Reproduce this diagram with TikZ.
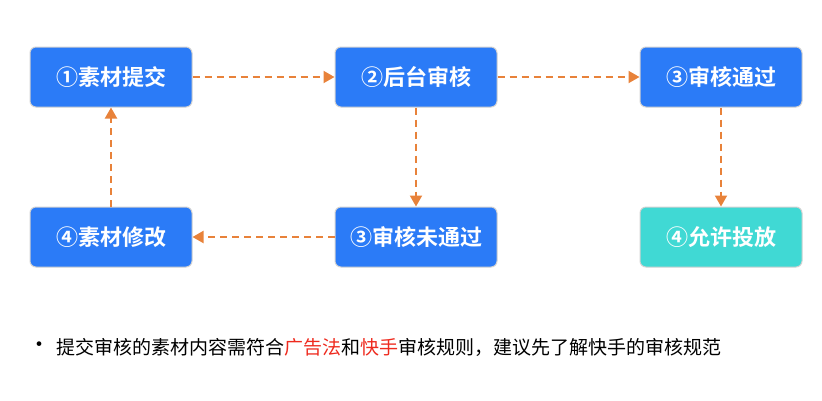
\documentclass[tikz,border=0pt]{standalone}
\usepackage{fontspec}
\usepackage{tikz}
\usetikzlibrary{arrows.meta}
\setmainfont{Noto Sans CJK SC}
\newfontfamily\cjkbold{Noto Sans CJK SC Bold}
\definecolor{stepblue}{HTML}{2B7BF7}
\definecolor{stepteal}{HTML}{40D9D4}
\definecolor{flowline}{HTML}{E8823A}
\definecolor{hotred}{HTML}{EE2A1E}
\tikzset{
    stepbox/.style={rectangle, rounded corners=6pt, fill=stepblue, draw=black!18, line width=1pt,
        minimum width=162pt, minimum height=60pt, text=white, font=\cjkbold\fontsize{22pt}{24pt}\selectfont},
    flow/.style={draw=flowline, line width=2pt, dash pattern=on 7pt off 5pt, -{Triangle[length=11pt,width=12pt]}}
}
\begin{document}
\begin{tikzpicture}[x=1pt,y=-1pt]
    \useasboundingbox (0,0) rectangle (822,400);
    % Steps
    \node[stepbox] (Submit) at (111,77) {①素材提交};
    \node[stepbox] (Review) at (416,77) {②后台审核};
    \node[stepbox] (Pass) at (721,77) {③审核通过};
    \node[stepbox] (Modify) at (111,237) {④素材修改};
    \node[stepbox] (Fail) at (416,237) {③审核未通过};
    \node[stepbox, fill=stepteal] (Launch) at (721,237) {④允许投放};
    % Arrows
    \draw[flow] (Submit) -- (Review);
    \draw[flow] (Review) -- (Pass);
    \draw[flow] (Pass) -- (Launch);
    \draw[flow] (Review) -- (Fail);
    \draw[flow] (Fail) -- (Modify);
    \draw[flow] (Modify) -- (Submit);
    % Note
    \node[anchor=west, inner sep=0pt, font=\fontsize{22pt}{24pt}\selectfont] (Dot) at (28,347) {•};
    \node[anchor=west, inner sep=0pt, font=\fontsize{19pt}{21pt}\selectfont] (Note) at (56,347)
        {提交审核的素材内容需符合\textcolor{hotred}{广告法}和\textcolor{hotred}{快手}审核规则，建议先了解快手的审核规范};
\end{tikzpicture}
\end{document}
